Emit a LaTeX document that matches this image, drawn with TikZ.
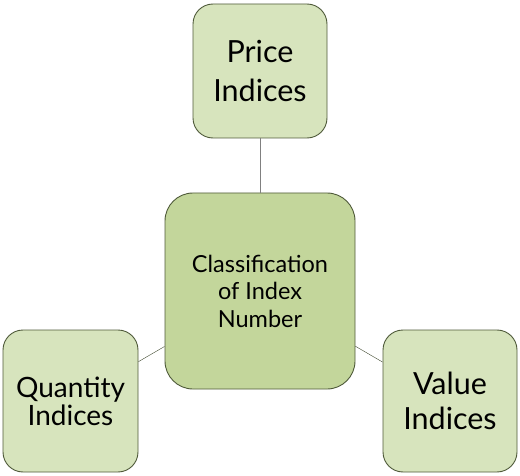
\documentclass[tikz,border=0pt]{standalone}
\usepackage{fontspec}
\setmainfont{Lato}
\definecolor{leafpale}{HTML}{D7E4BD}
\definecolor{leafmid}{HTML}{C3D69B}
\definecolor{leafedge}{HTML}{4F5A3A}
\begin{document}
\begin{tikzpicture}[x=1pt, y=1pt,
    kind/.style={draw=leafedge, line width=0.9pt, fill=leafpale, rounded corners=20pt,
        inner sep=0pt, align=center, font=\fontsize{30.5}{39}\selectfont},
    hub/.style={kind, fill=leafmid, rounded corners=28pt, font=\fontsize{23.5}{27.5}\selectfont}]
        \useasboundingbox (0, 0) rectangle (520, 475);
        \node[hub, minimum width=190pt, minimum height=196pt] (hub) at (260, 184) {Classification\\of Index\\Number};
        \node[kind, minimum width=134pt, minimum height=134pt] (price) at (260, 404) {Price\\Indices};
        \node[kind, minimum width=135pt, minimum height=142pt, font=\fontsize{28}{28}\selectfont] (quantity) at (70.5, 74) {Quantity\\Indices};
        \node[kind, minimum width=134pt, minimum height=142pt, font=\fontsize{30.5}{35}\selectfont] (value) at (450, 74) {Value\\Indices};
        \draw[gray] (hub) -- (price);
        \draw[leafedge!80!black] (hub) -- (quantity);
        \draw[leafedge!80!black] (hub) -- (value);
    \end{tikzpicture}
\end{document}
